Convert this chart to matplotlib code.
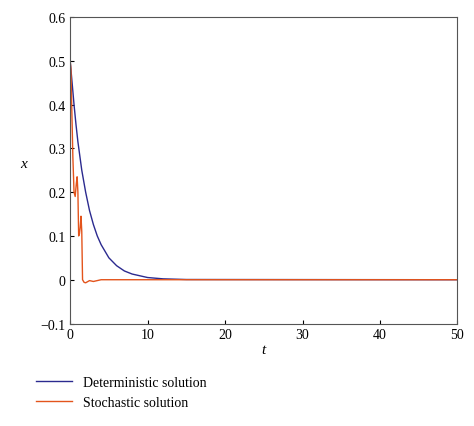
import matplotlib
matplotlib.use("Agg")
import matplotlib.pyplot as plt

plt.rcParams["font.family"] = ["Liberation Serif", "DejaVu Serif"]

# deterministic solution
t_det = [0, 0.25, 0.5, 0.75, 1.0, 1.5, 2.0, 2.5, 3.0, 3.5, 4.0, 5.0, 6.0, 7.0, 8.0, 10.0, 12.0, 15.0, 50.0]
x_det = [0.50, 0.45, 0.40, 0.355, 0.315, 0.25, 0.20, 0.158, 0.126, 0.10, 0.08, 0.050, 0.032, 0.020, 0.013, 0.005, 0.002, 0.0005, 0.0]

# stochastic solution
t_sto = [0, 0.1, 0.2, 0.35, 0.5, 0.65, 0.8, 0.9, 1.0, 1.1, 1.2, 1.3, 1.4, 1.5, 1.6, 1.8, 2.0, 2.5, 3.0, 4.0, 50.0]
x_sto = [0.50, 0.48, 0.40, 0.28, 0.20, 0.19, 0.22, 0.235, 0.20, 0.10, 0.105, 0.12, 0.145, 0.11, 0.0, -0.006, -0.007, -0.002, -0.004, 0.0, 0.0]

fig = plt.figure(figsize=(4.74, 4.27), dpi=100)
ax = fig.add_axes([0.148, 0.24, 0.817, 0.718])
ax.plot(t_det, x_det, color="#2b2a8f", lw=1.0, label="Deterministic solution")
ax.plot(t_sto, x_sto, color="#e3541c", lw=1.0, label="Stochastic solution")
ax.set_xlim(0, 50)
ax.set_ylim(-0.1, 0.6)
ax.set_xticks([0, 10, 20, 30, 40, 50])
ax.set_yticks([-0.1, 0, 0.1, 0.2, 0.3, 0.4, 0.5, 0.6])
ax.set_yticklabels(["\u22120.1", "0", "0.1", "0.2", "0.3", "0.4", "0.5", "0.6"])
ax.tick_params(direction="in", labelsize=10, length=3)
for s in ax.spines.values():
    s.set_color("#555555")
ax.set_xlabel("t", style="italic", fontsize=11, labelpad=1)
ax.set_ylabel("x", style="italic", fontsize=11, rotation=0, labelpad=12)
ax.legend(loc="upper left", bbox_to_anchor=(-0.12, -0.13), frameon=False, fontsize=10,
          handlelength=2.6, labelspacing=0.5)
fig.savefig("out.png", dpi=100)
